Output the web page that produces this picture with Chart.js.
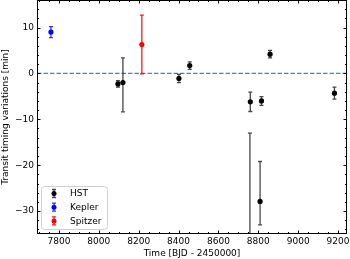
<!DOCTYPE html>
<html>
<head>
<meta charset="utf-8">
<script src="https://cdn.jsdelivr.net/npm/chart.js@4/dist/chart.umd.min.js"></script>
<style>
html, body { margin: 0; padding: 0; background: #fff; }
#wrap { width: 350px; height: 259px; }
</style>
</head>
<body>
<div id="wrap"><canvas id="ttvChart"></canvas></div>
<script>
// Data
const hstTime = [8096, 8121, 8402, 8456, 8758, 8760, 8809, 8816, 8859, 9182];
const hstTtv = [-2.3, -2.0, -1.1, 1.7, -48, -6.2, -27.9, -6.0, 4.2, -4.3];
const hstErrUp = [0.7, 5.4, 0.9, 0.8, 35, 2.1, 8.7, 0.95, 0.8, 1.3];
const hstErrDown = [0.7, 6.4, 0.9, 0.8, 35, 2.1, 5.1, 0.95, 0.8, 1.3];

const keplerTime = [7760];
const keplerTtv = [9.0];
const keplerErr = [1.2];

const spitzerTime = [8216];
const spitzerTtv = [6.3];
const spitzerErr = [6.4];

const seriesNames = ['HST', 'Kepler', 'Spitzer'];
const xTicks = [7800, 8000, 8200, 8400, 8600, 8800, 9000, 9200];
const yTicks = [-30, -20, -10, 0, 10];

function toPoints(xs, ys, up, down) {
    return xs.map((v, i) => ({ x: v, y: ys[i], errUp: up[i], errDown: down[i] }));
}

const FONT = { family: 'DejaVu Sans', size: 9 };

// Error bars, zero line
const errorBarPlugin = {
    id: 'errorBars',
    beforeDatasetsDraw(chart) {
        const { ctx, chartArea, scales: { x, y } } = chart;
        ctx.save();
        ctx.beginPath();
        ctx.rect(chartArea.left, chartArea.top, chartArea.right - chartArea.left, chartArea.bottom - chartArea.top);
        ctx.clip();

        // dashed zero line
        const y0 = y.getPixelForValue(0);
        ctx.strokeStyle = '#3a86c8';
        ctx.lineWidth = 1.2;
        ctx.setLineDash([4.5, 2]);
        ctx.beginPath();
        ctx.moveTo(chartArea.left, y0);
        ctx.lineTo(chartArea.right, y0);
        ctx.stroke();
        ctx.setLineDash([]);

        chart.data.datasets.forEach(ds => {
            ctx.strokeStyle = ds.errorColor;
            ctx.lineWidth = 1.3;
            ds.data.forEach(p => {
                const px = x.getPixelForValue(p.x);
                const top = y.getPixelForValue(p.y + p.errUp);
                const bot = y.getPixelForValue(p.y - p.errDown);
                ctx.beginPath();
                ctx.moveTo(px, top);
                ctx.lineTo(px, bot);
                ctx.moveTo(px - 2, top);
                ctx.lineTo(px + 2, top);
                ctx.moveTo(px - 2, bot);
                ctx.lineTo(px + 2, bot);
                ctx.stroke();
            });
        });
        ctx.restore();
    }
};

// Frame, inward ticks and legend
const framePlugin = {
    id: 'frame',
    afterDraw(chart) {
        const { ctx, chartArea: a, scales: { x, y } } = chart;
        ctx.save();
        ctx.strokeStyle = '#000';
        ctx.lineWidth = 1;
        ctx.strokeRect(a.left + 0.5, a.top + 0.5, a.right - a.left - 1, a.bottom - a.top - 1);

        ctx.beginPath();
        for (let v = 7700; v <= 9240; v += 50) {
            const px = Math.round(x.getPixelForValue(v)) + 0.5;
            const len = v % 200 === 0 ? 3.5 : 2;
            ctx.moveTo(px, a.bottom); ctx.lineTo(px, a.bottom - len);
            ctx.moveTo(px, a.top); ctx.lineTo(px, a.top + len);
        }
        for (let v = -34; v <= 16; v += 2) {
            const py = Math.round(y.getPixelForValue(v)) + 0.5;
            const len = v % 10 === 0 ? 3.5 : 2;
            ctx.moveTo(a.left, py); ctx.lineTo(a.left + len, py);
            ctx.moveTo(a.right, py); ctx.lineTo(a.right - len, py);
        }
        ctx.stroke();

        // legend
        const bx = a.left + 4, bw = 66, bh = 43, by = a.bottom - 5 - bh;
        ctx.beginPath();
        ctx.roundRect(bx + 0.5, by + 0.5, bw, bh, 3);
        ctx.fillStyle = 'rgba(255,255,255,0.8)';
        ctx.fill();
        ctx.strokeStyle = '#d0d0d0';
        ctx.stroke();

        ctx.font = '9px "DejaVu Sans"';
        ctx.textBaseline = 'middle';
        chart.data.datasets.forEach((ds, i) => {
            const cy = by + 7.5 + i * 13.7;
            const cx = bx + 13;
            ctx.strokeStyle = ds.errorColor;
            ctx.lineWidth = 1.3;
            ctx.beginPath();
            ctx.moveTo(cx, cy - 4); ctx.lineTo(cx, cy + 4);
            ctx.moveTo(cx - 2, cy - 4); ctx.lineTo(cx + 2, cy - 4);
            ctx.moveTo(cx - 2, cy + 4); ctx.lineTo(cx + 2, cy + 4);
            ctx.stroke();
            ctx.fillStyle = ds.backgroundColor;
            ctx.beginPath();
            ctx.arc(cx, cy, 2.5, 0, Math.PI * 2);
            ctx.fill();
            ctx.fillStyle = '#000';
            ctx.fillText(seriesNames[i], bx + 29, cy + 0.5);
        });
        ctx.restore();
    }
};

Chart.defaults.font.family = FONT.family;
Chart.defaults.font.size = FONT.size;
Chart.defaults.color = '#000';

const ctx = document.getElementById('ttvChart').getContext('2d');
const ttvChart = new Chart(ctx, {
    type: 'scatter',
    data: {
        datasets: [{
            label: seriesNames[0],
            data: toPoints(hstTime, hstTtv, hstErrUp, hstErrDown),
            backgroundColor: '#000',
            borderColor: '#000',
            errorColor: 'rgba(0,0,0,0.72)',
            pointRadius: 2.6,
            borderWidth: 0
        }, {
            label: seriesNames[1],
            data: toPoints(keplerTime, keplerTtv, keplerErr, keplerErr),
            backgroundColor: '#0000ff',
            borderColor: '#0000ff',
            errorColor: 'rgba(0,0,255,0.8)',
            pointRadius: 2.6,
            borderWidth: 0
        }, {
            label: seriesNames[2],
            data: toPoints(spitzerTime, spitzerTtv, spitzerErr, spitzerErr),
            backgroundColor: '#ff0000',
            borderColor: '#ff0000',
            errorColor: 'rgba(255,0,0,0.9)',
            pointRadius: 2.6,
            borderWidth: 0
        }]
    },
    options: {
        responsive: true,
        maintainAspectRatio: false,
        animation: false,
        layout: { autoPadding: false, padding: { top: 0, right: 3, left: 0, bottom: 0 } },
        plugins: { legend: { display: false }, tooltip: { enabled: false } },
        scales: {
            x: {
                type: 'linear',
                min: 7690,
                max: 9245,
                grid: { display: false, drawTicks: false, tickLength: 0 },
                border: { display: false },
                afterBuildTicks: s => { s.ticks = xTicks.map(v => ({ value: v })); },
                afterFit: s => { s.height = 25; s.paddingLeft = 0; s.paddingRight = 0; },
                ticks: { autoSkip: false, maxRotation: 0, padding: 2, callback: v => String(v) },
                title: { display: true, text: 'Time [BJD - 2450000]', padding: { top: 0, bottom: 0 } }
            },
            y: {
                min: -35,
                max: 16,
                grid: { display: false, drawTicks: false, tickLength: 0 },
                border: { display: false },
                afterBuildTicks: s => { s.ticks = yTicks.map(v => ({ value: v })); },
                afterFit: s => { s.width = 37; s.paddingTop = 0; s.paddingBottom = 0; },
                ticks: { autoSkip: false, padding: 3, callback: v => (v < 0 ? '\u2212' + Math.abs(v) : String(v)) },
                title: { display: true, text: 'Transit timing variations [min]', padding: { top: 0, bottom: 0 } }
            }
        }
    },
    plugins: [errorBarPlugin, framePlugin]
});
</script>
</body>
</html>
